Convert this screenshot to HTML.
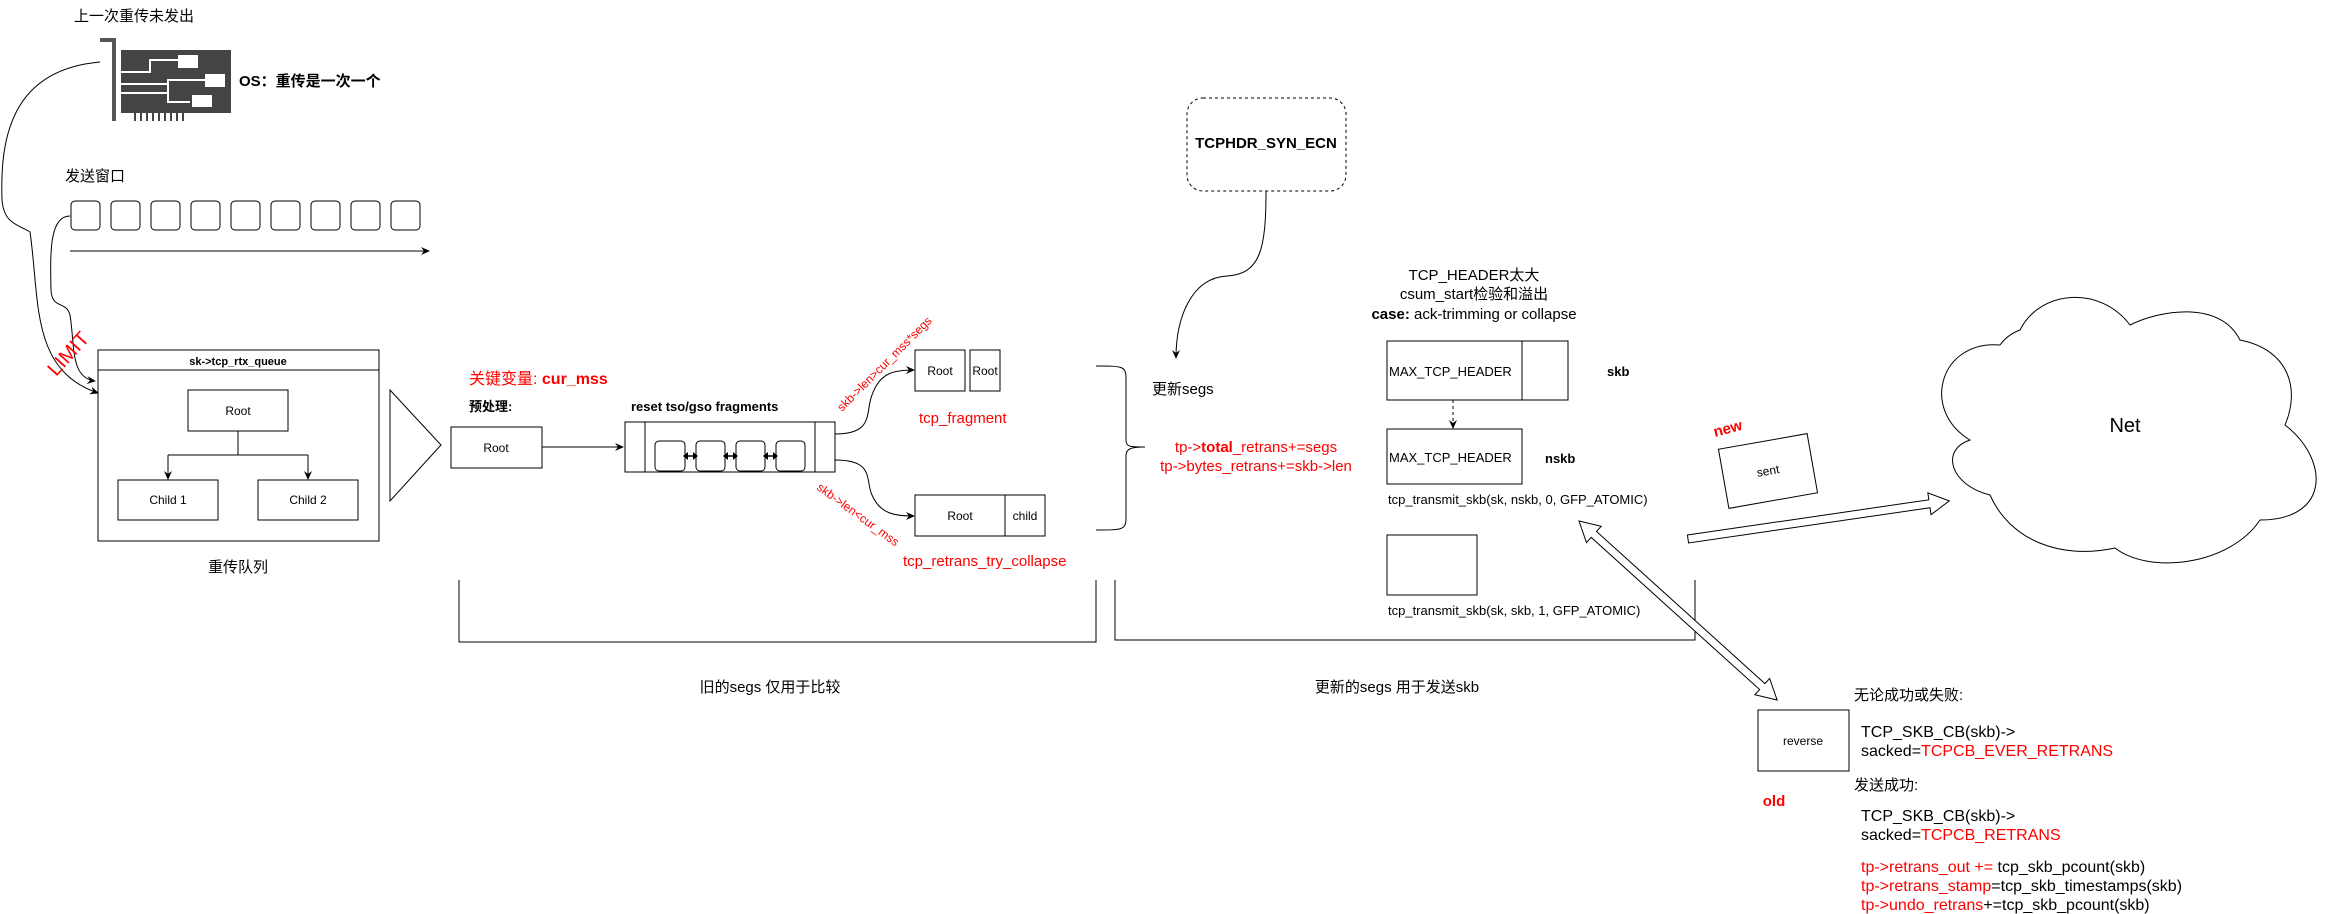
<!DOCTYPE html>
<html><head><meta charset="utf-8"><style>
html,body{margin:0;padding:0;background:#fff;}
svg{display:block;}
text{font-family:"Liberation Sans","Noto Sans CJK SC",sans-serif;}
</style></head><body>
<svg width="2336" height="914" viewBox="0 0 2336 914" xmlns="http://www.w3.org/2000/svg">
<defs>
<marker id="ar" markerWidth="10" markerHeight="10" refX="8" refY="5" orient="auto" markerUnits="userSpaceOnUse"><path d="M0,1 L9,5 L0,9 L3,5 Z" fill="#000"/></marker>
</defs>
<g font-size="15" fill="#000">
<text x="74" y="21">上一次重传未发出</text>
<!-- NIC -->
<path d="M100,40 H114 V121" stroke="#555" stroke-width="4" fill="none"/>
<rect x="121" y="50" width="110" height="63" fill="#444"/>
<g stroke="#fff" stroke-width="2" fill="none">
<path d="M121,72 H150 V60 H178"/><path d="M121,93 H168 V80 H205"/><path d="M168,93 V102 H190"/><path d="M121,84 H168"/>
</g>
<rect x="178" y="55" width="20" height="13" fill="#fff"/>
<rect x="205" y="74" width="20" height="13" fill="#fff"/>
<rect x="192" y="95" width="20" height="12" fill="#fff"/>
<g stroke="#444" stroke-width="2"><path d="M135,113V121M141,113V121M147,113V121M153,113V121M159,113V121M165,113V121M171,113V121M177,113V121M183,113V121"/></g>
<text x="239" y="86" font-weight="bold">OS：重传是一次一个</text>
<text x="65" y="181">发送窗口</text>
<g fill="#fff" stroke="#000" stroke-width="1">
<rect x="71" y="201" width="29" height="29" rx="4"/><rect x="111" y="201" width="29" height="29" rx="4"/><rect x="151" y="201" width="29" height="29" rx="4"/><rect x="191" y="201" width="29" height="29" rx="4"/><rect x="231" y="201" width="29" height="29" rx="4"/><rect x="271" y="201" width="29" height="29" rx="4"/><rect x="311" y="201" width="29" height="29" rx="4"/><rect x="351" y="201" width="29" height="29" rx="4"/><rect x="391" y="201" width="29" height="29" rx="4"/>
</g>
<line x1="70" y1="251" x2="429" y2="251" stroke="#000" marker-end="url(#ar)"/>
<path d="M100,62 C10,70 0,140 2,200 C4,225 20,225 30,232 C40,300 30,370 98,393" stroke="#000" fill="none" marker-end="url(#ar)"/>
<path d="M70,216 C50,216 50,250 51,290 C52,310 66,300 70,315 C75,345 70,378 95,381" stroke="#000" fill="none" marker-end="url(#ar)"/>
<text x="56" y="387" fill="#f00" font-size="20" transform="rotate(-48 45 382)">LIMIT</text>
<!-- queue -->
<rect x="98" y="350" width="281" height="191" fill="#fff" stroke="#000"/>
<line x1="98" y1="370" x2="379" y2="370" stroke="#000"/>
<text x="238" y="365" font-size="11" font-weight="bold" text-anchor="middle">sk-&gt;tcp_rtx_queue</text>
<rect x="188" y="390" width="100" height="41" fill="#fff" stroke="#000"/>
<text x="238" y="415" font-size="12" text-anchor="middle">Root</text>
<rect x="118" y="480" width="100" height="40" fill="#fff" stroke="#000"/>
<text x="168" y="504" font-size="12" text-anchor="middle">Child 1</text>
<rect x="258" y="480" width="100" height="40" fill="#fff" stroke="#000"/>
<text x="308" y="504" font-size="12" text-anchor="middle">Child 2</text>
<path d="M238,431 V455 M168,455 H308" stroke="#000" fill="none"/>
<line x1="168" y1="455" x2="168" y2="479" stroke="#000" marker-end="url(#ar)"/>
<line x1="308" y1="455" x2="308" y2="479" stroke="#000" marker-end="url(#ar)"/>
<text x="238" y="572" text-anchor="middle">重传队列</text>
<polygon points="390,390 441,445 390,501" fill="#fff" stroke="#000"/>
<text x="469" y="384" fill="#f00" font-size="16">关键变量: <tspan font-weight="bold">cur_mss</tspan></text>
<text x="469" y="411" font-size="13" font-weight="bold">预处理:</text>
<rect x="451" y="427" width="91" height="41" fill="#fff" stroke="#000"/>
<text x="496" y="452" font-size="12" text-anchor="middle">Root</text>
<line x1="542" y1="447" x2="623" y2="447" stroke="#000" marker-end="url(#ar)"/>
<text x="631" y="411" font-size="13" font-weight="bold">reset tso/gso fragments</text>
<rect x="625" y="422" width="210" height="50" fill="#fff" stroke="#000"/>
<path d="M645,422V472M815,422V472" stroke="#000"/>
<g fill="#fff" stroke="#000"><rect x="655" y="441" width="30" height="30" rx="4"/><rect x="696" y="441" width="29" height="30" rx="4"/><rect x="736" y="441" width="29" height="30" rx="4"/><rect x="776" y="441" width="29" height="30" rx="4"/></g>
<g stroke="#000" stroke-width="1.5"><path d="M684,456H697M724,456H737M764,456H777"/></g>
<g fill="#000"><path d="M683,456l5,-4v8zM698,456l-5,-4v8zM723,456l5,-4v8zM738,456l-5,-4v8zM763,456l5,-4v8zM778,456l-5,-4v8z"/></g>
<path d="M835,434 C875,434 865,412 872,395 C880,372 895,370 914,370" stroke="#000" fill="none" marker-end="url(#ar)"/>
<path d="M835,460 C875,460 865,480 872,495 C880,514 895,516 914,516" stroke="#000" fill="none" marker-end="url(#ar)"/>
<rect x="915" y="350" width="50" height="41" fill="#fff" stroke="#000"/>
<rect x="970" y="350" width="30" height="41" fill="#fff" stroke="#000"/>
<text x="940" y="375" font-size="12" text-anchor="middle">Root</text>
<text x="985" y="375" font-size="12" text-anchor="middle">Root</text>
<text x="0" y="0" fill="#f00" font-size="12" transform="translate(842,412) rotate(-45)">skb-&gt;len&gt;cur_mss*segs</text>
<text x="919" y="423" fill="#f00" font-size="15">tcp_fragment</text>
<rect x="915" y="495" width="130" height="41" fill="#fff" stroke="#000"/>
<line x1="1005" y1="495" x2="1005" y2="536" stroke="#000"/>
<text x="960" y="520" font-size="12" text-anchor="middle">Root</text>
<text x="1025" y="520" font-size="12" text-anchor="middle">child</text>
<text x="0" y="0" fill="#f00" font-size="12" transform="translate(816,489) rotate(36)">skb-&gt;len&lt;cur_mss</text>
<text x="903" y="566" fill="#f00" font-size="15">tcp_retrans_try_collapse</text>
<!-- brackets -->
<path d="M459,580 V642 H1096 V580" stroke="#000" fill="none"/>
<path d="M1115,580 V640 H1695 V580" stroke="#000" fill="none"/>
<text x="770" y="692" text-anchor="middle">旧的segs 仅用于比较</text>
<text x="1397" y="692" text-anchor="middle">更新的segs 用于发送skb</text>
<!-- right side -->
<rect x="1187" y="98" width="159" height="93" rx="16" fill="#fff" stroke="#000" stroke-dasharray="3,3"/>
<text x="1266" y="148" font-size="15" font-weight="bold" text-anchor="middle">TCPHDR_SYN_ECN</text>
<path d="M1266,191 C1266,250 1260,274 1227,276 C1190,278 1176,320 1176,358" stroke="#000" fill="none" marker-end="url(#ar)"/>
<path d="M1096,366 C1122,366 1126,366 1126,378 V440 C1126,447 1130,447 1145,447 M1145,447 C1130,447 1126,449 1126,456 V518 C1126,530 1122,530 1096,530" stroke="#000" fill="none"/>
<text x="1152" y="394">更新segs</text>
<text x="1256" y="452" fill="#f00" text-anchor="middle">tp-&gt;<tspan font-weight="bold">total</tspan>_retrans+=segs</text>
<text x="1256" y="471" fill="#f00" text-anchor="middle">tp-&gt;bytes_retrans+=skb-&gt;len</text>
<text x="1474" y="280" text-anchor="middle">TCP_HEADER太大</text>
<text x="1474" y="299" text-anchor="middle">csum_start检验和溢出</text>
<text x="1474" y="319" text-anchor="middle"><tspan font-weight="bold">case:</tspan> ack-trimming or collapse</text>
<rect x="1387" y="341" width="181" height="59" fill="#fff" stroke="#000"/>
<line x1="1522" y1="341" x2="1522" y2="400" stroke="#000"/>
<text x="1389" y="376" font-size="13">MAX_TCP_HEADER</text>
<text x="1607" y="376" font-size="13" font-weight="bold">skb</text>
<line x1="1453" y1="400" x2="1453" y2="428" stroke="#000" stroke-dasharray="3,3" marker-end="url(#ar)"/>
<rect x="1387" y="429" width="135" height="55" fill="#fff" stroke="#000"/>
<text x="1389" y="462" font-size="13">MAX_TCP_HEADER</text>
<text x="1545" y="463" font-size="13" font-weight="bold">nskb</text>
<text x="1388" y="504" font-size="13">tcp_transmit_skb(sk, nskb, 0, GFP_ATOMIC)</text>
<rect x="1387" y="535" width="90" height="60" fill="#fff" stroke="#000"/>
<text x="1388" y="615" font-size="13">tcp_transmit_skb(sk, skb, 1, GFP_ATOMIC)</text>
<text x="0" y="0" fill="#f00" font-size="15" font-weight="bold" transform="translate(1715,437) rotate(-15)">new</text>
<g transform="translate(1768,471) rotate(-10)">
<rect x="-45" y="-30" width="90" height="60" fill="#fff" stroke="#000"/>
<text x="0" y="4" font-size="12" text-anchor="middle">sent</text>
</g>
<g transform="translate(1688,539) rotate(-8.3)">
<polygon points="0,-4 244,-4 244,-11 264,0 244,11 244,4 0,4" fill="#fff" stroke="#000"/>
</g>
<path d="M2020,330 C2040,290 2100,285 2130,325 C2160,310 2220,300 2240,340 C2290,350 2300,390 2285,425 C2330,460 2330,520 2260,520 C2230,565 2150,575 2115,548 C2060,560 2010,540 1990,495 C1950,485 1940,450 1970,440 C1920,410 1940,340 2000,345 C2005,338 2012,333 2020,330 Z" fill="#fff" stroke="#000"/>
<text x="2125" y="432" font-size="20" text-anchor="middle">Net</text>
<g transform="translate(1579,521) rotate(42.1)">
<polygon points="0,0 20,-11 20,-4 247,-4 247,-11 267,0 247,11 247,4 20,4 20,11" fill="#fff" stroke="#000"/>
</g>
<rect x="1758" y="710" width="91" height="61" fill="#fff" stroke="#000"/>
<text x="1803" y="745" font-size="12" text-anchor="middle">reverse</text>
<text x="1774" y="806" fill="#f00" font-size="15" font-weight="bold" text-anchor="middle">old</text>
<text x="1854" y="700">无论成功或失败:</text>
<text x="1861" y="737" font-size="16">TCP_SKB_CB(skb)-&gt;</text>
<text x="1861" y="756" font-size="16">sacked=<tspan fill="#f00">TCPCB_EVER_RETRANS</tspan></text>
<text x="1854" y="790">发送成功:</text>
<text x="1861" y="821" font-size="16">TCP_SKB_CB(skb)-&gt;</text>
<text x="1861" y="840" font-size="16">sacked=<tspan fill="#f00">TCPCB_RETRANS</tspan></text>
<text x="1861" y="872" font-size="16"><tspan fill="#f00">tp-&gt;retrans_out +=</tspan> tcp_skb_pcount(skb)</text>
<text x="1861" y="891" font-size="16"><tspan fill="#f00">tp-&gt;retrans_stamp</tspan>=tcp_skb_timestamps(skb)</text>
<text x="1861" y="910" font-size="16"><tspan fill="#f00">tp-&gt;undo_retrans</tspan>+=tcp_skb_pcount(skb)</text>
</g>
</svg>
</body></html>
